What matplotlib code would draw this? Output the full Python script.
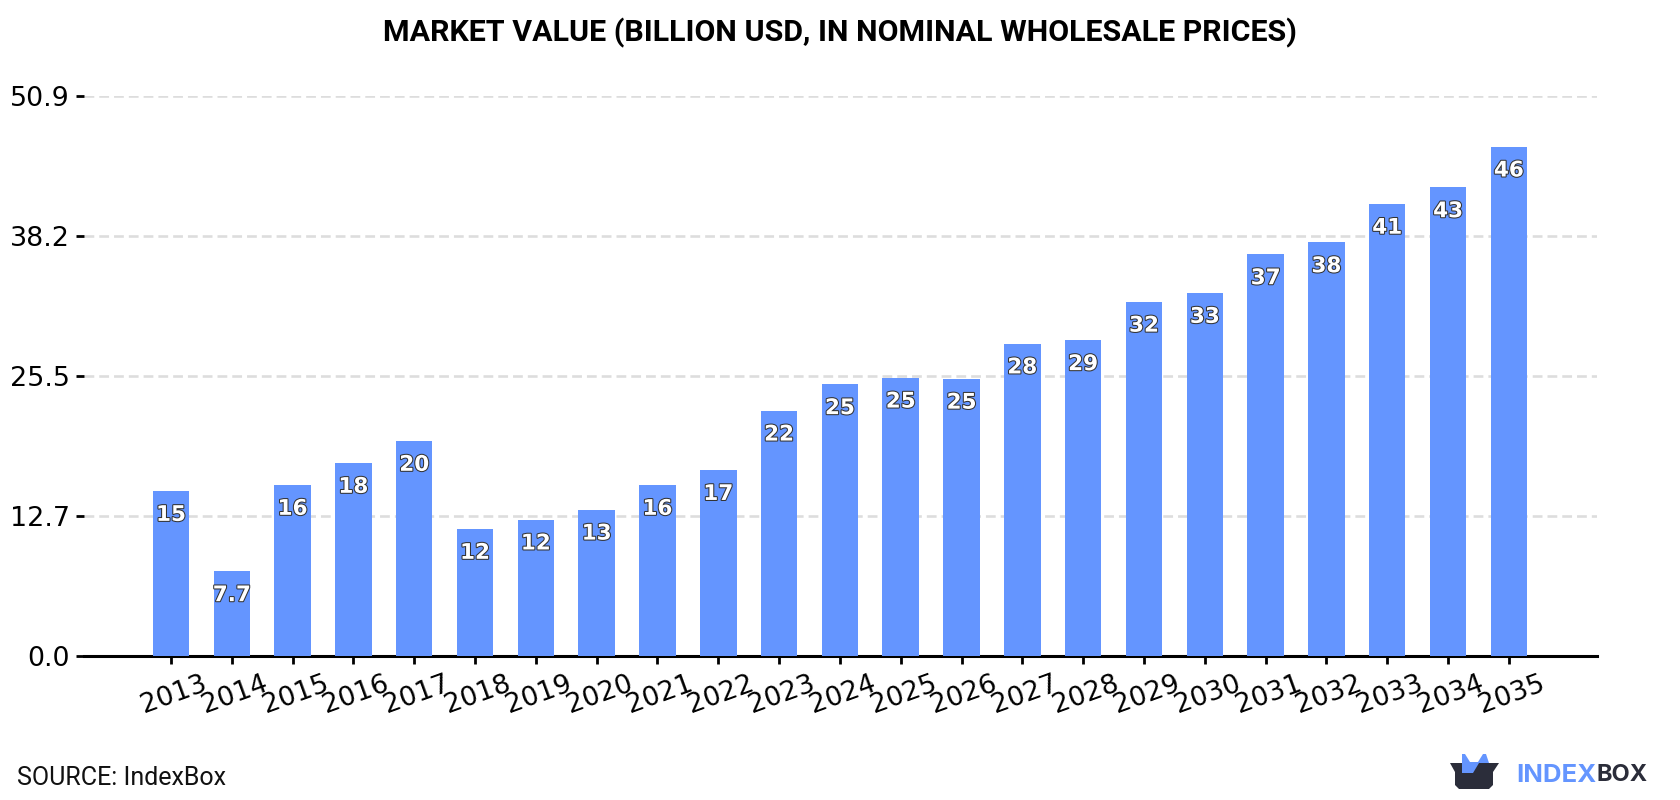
import matplotlib
matplotlib.use("Agg")
import matplotlib.pyplot as plt
from matplotlib.patches import Polygon
from matplotlib import patheffects
from matplotlib.transforms import ScaledTranslation

years = list(range(2013, 2036))
market_value = [15.0, 7.7, 15.55, 17.55, 19.55, 11.55, 12.4, 13.3, 15.55, 16.9, 22.3, 24.7,
                25.3, 25.2, 28.4, 28.7, 32.2, 33.0, 36.51, 37.6, 41.1, 42.6, 46.3]
y_ticks = [0.0, 12.725, 25.45, 38.175, 50.9]
y_tick_labels = ["0.0", "12.7", "25.5", "38.2", "50.9"]

BLUE = "#6495ff"
DARK = "#2b2d3a"
W, H = 1680, 800


def fmt_value(v):
    return f"{v:.1f}" if v < 10 else f"{v:.0f}"


fig = plt.figure(figsize=(W / 100, H / 100), dpi=100)
ax = fig.add_axes([84 / W, 1 - 656 / H, (1597 - 84) / W, (656 - 96) / H])

ax.bar(range(len(years)), market_value, width=0.6, color=BLUE, zorder=3)
ax.set_xlim(-1.43, 23.45)
ax.set_ylim(0, 50.9)

ax.set_yticks(y_ticks)
ax.set_yticklabels(y_tick_labels)
ax.set_xticks(range(len(years)))
ax.set_xticklabels(years, rotation=20, ha="center")
ax.tick_params(axis="both", labelsize=19.4, length=5.5, width=2, colors="black")
ax.tick_params(axis="x", pad=5)
ax.tick_params(axis="y", pad=4.6)

# nudge the slanted year labels a little to the right of their ticks
nudge = ScaledTranslation(2 / 72, 0, fig.dpi_scale_trans)
for label in ax.get_xticklabels():
    label.set_transform(label.get_transform() + nudge)

ax.grid(axis="y", color="#dddddd", linewidth=1.9, linestyle=(0, (3.7, 1.9)), zorder=1)
ax.set_axisbelow(True)
for side in ["top", "left", "right"]:
    ax.spines[side].set_visible(False)
ax.spines["bottom"].set_linewidth(2.2)

# white value labels with a dark outline, just under each bar top
for i, v in enumerate(market_value):
    ax.annotate(fmt_value(v), (i, v), xytext=(0, -17.2), textcoords="offset points",
                ha="center", va="center", fontsize=15.5, fontweight="bold", color="white",
                zorder=5,
                path_effects=[patheffects.withStroke(linewidth=1.5, foreground="#333333")])

fig.text(840 / W, 1 - 33 / H, "MARKET VALUE (BILLION USD, IN NOMINAL WHOLESALE PRICES)",
         family="Roboto", fontweight="bold", fontsize=21.9, ha="center", va="center", color="black")
fig.text(17 / W, 1 - 778 / H, "SOURCE: IndexBox", family="Roboto", fontsize=18,
         ha="left", va="center", color="#111111")

# logo, laid out in pixel coordinates
logo = fig.add_axes([0, 0, 1, 1], facecolor="none", zorder=10)
logo.set_xlim(0, W)
logo.set_ylim(H, 0)
logo.axis("off")
box_body = [(1450, 763), (1499, 763), (1493, 772), (1493, 785), (1489, 789), (1459, 789),
            (1455, 785), (1455, 772)]
box_crown = [(1462, 773), (1462, 754), (1465, 754), (1470, 762), (1478, 762), (1483, 754),
             (1486, 754), (1489, 763), (1479, 763), (1473, 773)]
logo.add_patch(Polygon(box_body, closed=True, facecolor=DARK, edgecolor="none"))
logo.add_patch(Polygon(box_crown, closed=True, facecolor=BLUE, edgecolor="none"))
logo.text(1516, 775, "INDEX", family="Inter", fontweight="bold", fontsize=18.5, color=BLUE,
          ha="left", va="center")
logo.text(1597, 775, "BOX", family="Inter", fontweight="bold", fontsize=17, color=DARK,
          ha="left", va="center")

fig.savefig("out.png", dpi=100)
